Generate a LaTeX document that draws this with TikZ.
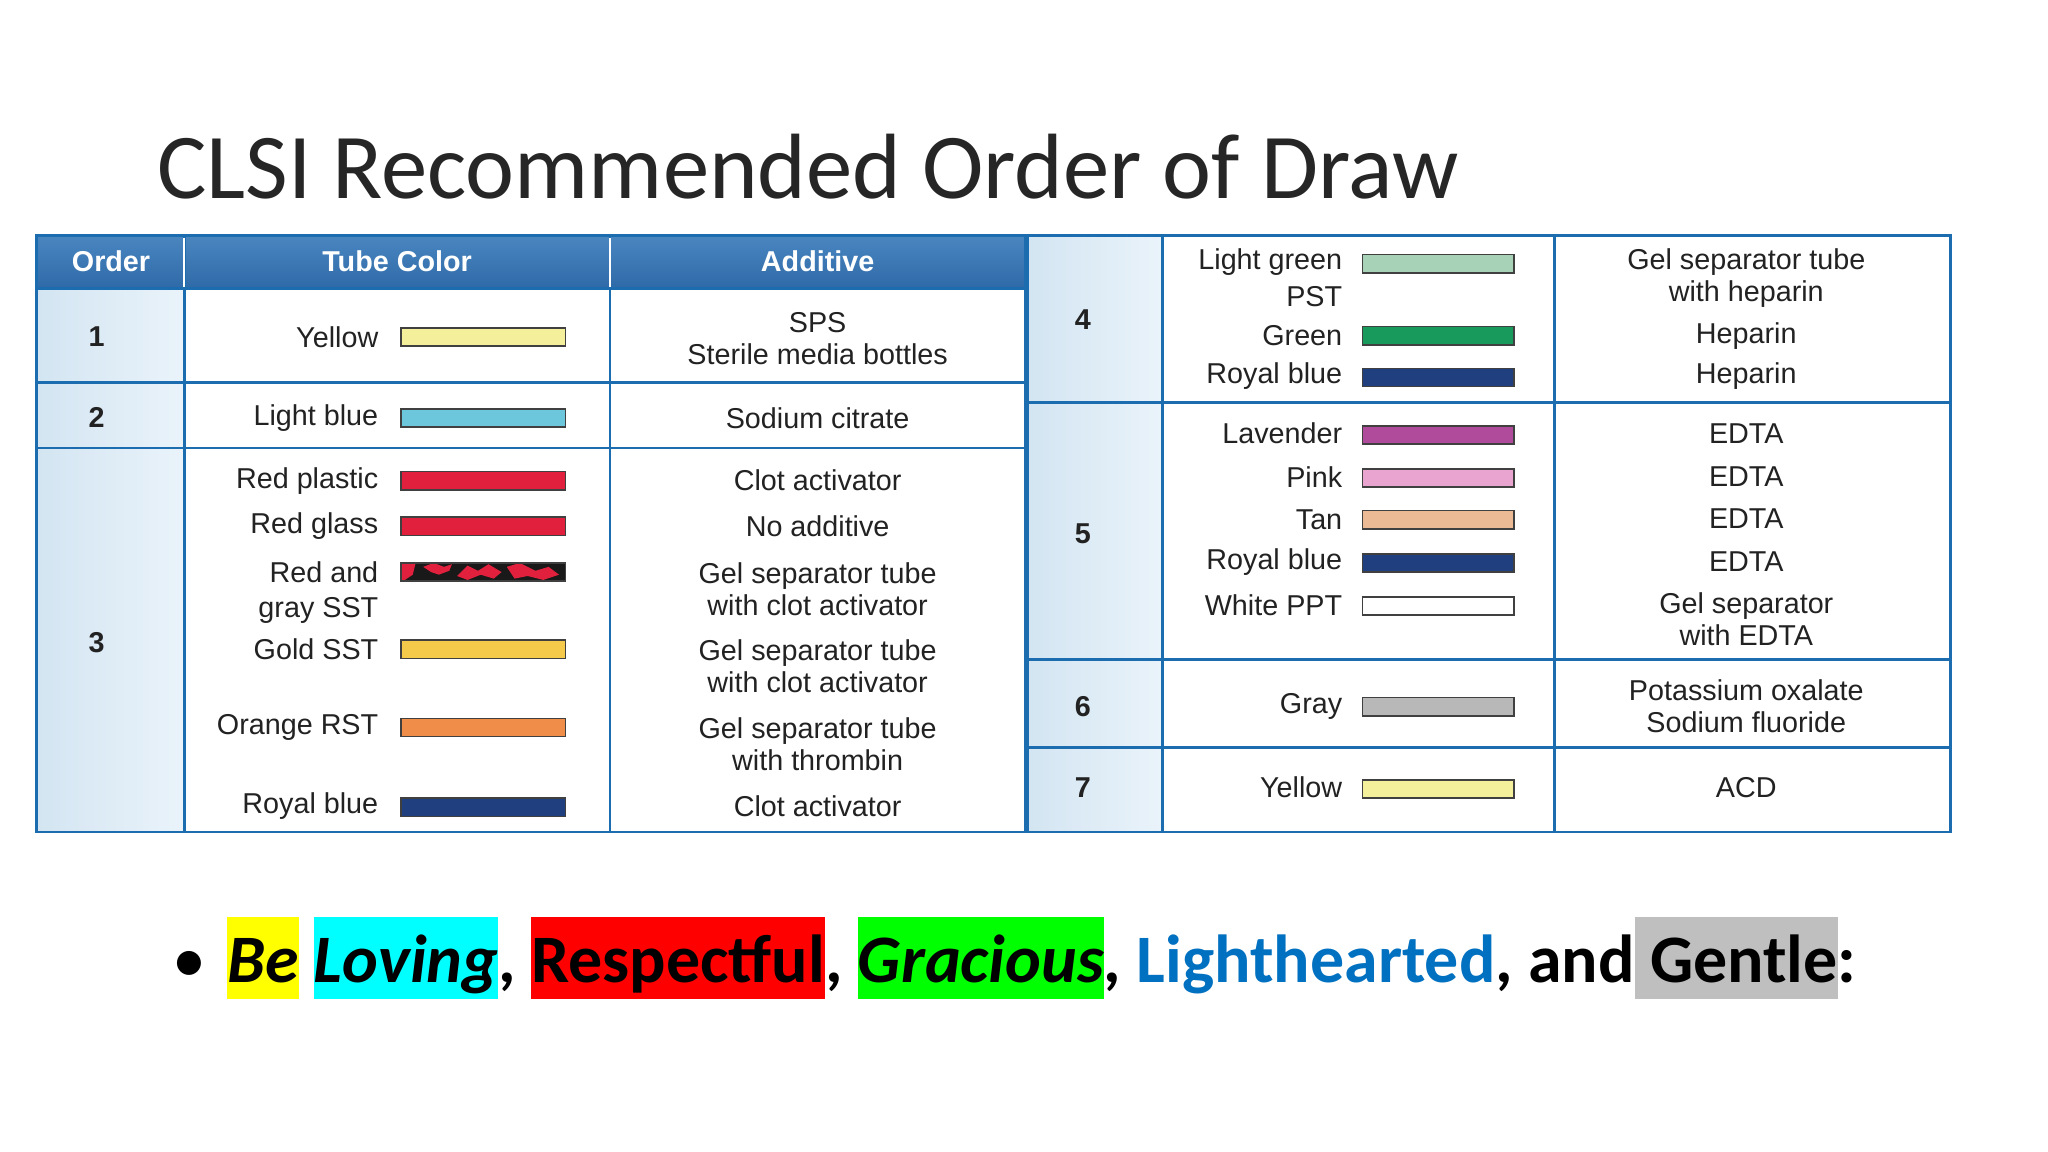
\documentclass[tikz,border=0pt]{standalone}
\usepackage{fontspec}
\setmainfont{Liberation Sans}
\newfontfamily\calib{Carlito}
\definecolor{lineb}{HTML}{1C6CB0}
\definecolor{hdr}{HTML}{2F6AA8}
\definecolor{hdrl}{HTML}{4A86C0}
\definecolor{ordbg}{HTML}{D3E5F2}
\definecolor{ordbg2}{HTML}{EAF3FA}
\definecolor{cyel}{HTML}{F3EF9A}
\definecolor{clb}{HTML}{6CC7DC}
\definecolor{cred}{HTML}{E0203C}
\definecolor{cgold}{HTML}{F5C94A}
\definecolor{corg}{HTML}{EF8D49}
\definecolor{croy}{HTML}{1F3F7F}
\definecolor{clg}{HTML}{A8D2B8}
\definecolor{cgr}{HTML}{189A5C}
\definecolor{clav}{HTML}{B04A9A}
\definecolor{cpink}{HTML}{E9A5CF}
\definecolor{ctan}{HTML}{ECBB95}
\definecolor{cgray}{HTML}{B8B8B8}
\definecolor{txt}{HTML}{222222}
\definecolor{lhb}{HTML}{0070C0}
\definecolor{hlgray}{HTML}{BFBFBF}
\definecolor{hlyel}{HTML}{FFFF00}
\definecolor{hlcy}{HTML}{00FFFF}
\definecolor{hlred}{HTML}{FF0000}
\definecolor{hlgr}{HTML}{00FF00}
\newcommand\hlb[2]{{\setlength\fboxsep{0pt}\colorbox{#1}{\rule[-6.5pt]{0pt}{31.5pt}#2}}}
\tikzset{
  lab/.style={anchor=east,font=\fontsize{11}{12}\selectfont,text=txt,inner sep=0pt},
  add/.style={align=center,font=\fontsize{11}{12.2}\selectfont,text=txt,inner sep=0pt},
  num/.style={font=\bfseries\fontsize{11}{12}\selectfont,text=txt,inner sep=0pt},
  hd/.style={font=\bfseries\fontsize{11}{12}\selectfont,text=white,inner sep=0pt},
  sw/.style={draw=black!75,line width=0.6pt},
  grid/.style={draw=lineb,line width=1.1pt}
}
\begin{document}
\begin{tikzpicture}[x=0.5pt,y=-0.5pt]
\useasboundingbox (0,0) rectangle (1568,882);
\fill[white] (0,0) rectangle (1568,882);
\node[anchor=base west,inner sep=0pt,font=\calib\fontsize{35.5}{40}\selectfont,text=black!85] (title) at (120,152) {CLSI Recommended Order of Draw};
% left table backgrounds
\shade[top color=hdrl,bottom color=hdr] (28,180) rectangle (785,221);
\shade[left color=ordbg,right color=ordbg2] (28,221) rectangle (141,637);
\shade[left color=ordbg,right color=ordbg2] (787,180) rectangle (890,637);
% grid
\draw[grid] (28,180) rectangle (785,637);
\draw[grid] (141,180) -- (141,637) (467,180) -- (467,637);
\draw[grid] (28,221) -- (785,221) (28,293) -- (785,293) (28,343) -- (785,343);
\draw[grid] (787,180) rectangle (1493,637);
\draw[grid] (890,180) -- (890,637) (1190,180) -- (1190,637);
\draw[grid] (787,308) -- (1493,308) (787,505) -- (1493,505) (787,572) -- (1493,572);
\draw[white,line width=1pt] (141,182) -- (141,220) (467,182) -- (467,220);
% header
\node[hd] (h1) at (85,200) {Order};
\node[hd] (h2) at (304,200) {Tube Color};
\node[hd] (h3) at (626,200) {Additive};
% order numbers
\node[num] (n1) at (74,258) {1};
\node[num] (n2) at (74,320) {2};
\node[num] (n3) at (74,492) {3};
\node[num] (n4) at (829,245) {4};
\node[num] (n5) at (829,409) {5};
\node[num] (n6) at (829,541) {6};
\node[num] (n7) at (829,603) {7};
% left labels
\node[lab] (l1) at (290,258) {Yellow};
\node[lab] (l2) at (290,320) {Light blue};
\node[lab] (l3) at (290,368) {Red plastic};
\node[lab] (l4) at (290,403) {Red glass};
\node[lab] (l5) at (290,438) {Red and};
\node[lab] (l5b) at (290,467) {gray SST};
\node[lab] (l6) at (290,497) {Gold SST};
\node[lab] (l7) at (290,557) {Orange RST};
\node[lab] (l8) at (290,617) {Royal blue};
% left swatches
\foreach \y/\c in {258/cyel,320/clb,368/cred,403/cred,497/cgold,557/corg,618/croy}
  \draw[sw,fill=\c] (307,\y-7) rectangle (433,\y+7);
\fill[black!90] (307,431) rectangle (433,445);
\fill[cred] (307,432) -- (318,432) -- (316,440) -- (310,444) -- (307,444) -- cycle;
\fill[cred] (324,434) -- (332,431) -- (340,434) -- (346,432) -- (344,437) -- (336,440) -- (330,438) -- cycle;
\fill[cred] (350,441) -- (358,433) -- (366,437) -- (374,432) -- (384,438) -- (378,443) -- (368,440) -- (358,444) -- cycle;
\fill[cred] (388,434) -- (398,431) -- (410,437) -- (420,434) -- (428,440) -- (416,444) -- (404,441) -- (394,443) -- cycle;
\draw[sw] (307,431) rectangle (433,445);
% left additives
\node[add] (a1) at (626,259) {SPS\\Sterile media bottles};
\node[add] (a2) at (626,320) {Sodium citrate};
\node[add] (a3) at (626,368) {Clot activator};
\node[add] (a4) at (626,403) {No additive};
\node[add] (a5) at (626,451) {Gel separator tube\\with clot activator};
\node[add] (a6) at (626,510) {Gel separator tube\\with clot activator};
\node[add] (a7) at (626,570) {Gel separator tube\\with thrombin};
\node[add] (a8) at (626,617) {Clot activator};
% right labels
\node[lab] (r1) at (1028,201) {Light green};
\node[lab] (r1b) at (1028,227) {PST};
\node[lab] (r2) at (1028,257) {Green};
\node[lab] (r3) at (1028,288) {Royal blue};
\node[lab] (r4) at (1028,332) {Lavender};
\node[lab] (r5) at (1028,365) {Pink};
\node[lab] (r6) at (1028,398) {Tan};
\node[lab] (r7) at (1028,430) {Royal blue};
\node[lab] (r8) at (1028,463) {White PPT};
\node[lab] (r9) at (1028,541) {Gray};
\node[lab] (r10) at (1028,603) {Yellow};
\foreach \y/\c in {202/clg,257/cgr,289/croy,333/clav,366/cpink,398/ctan,431/croy,464/white,541/cgray,604/cyel}
  \draw[sw,fill=\c] (1043,\y-7) rectangle (1159,\y+7);
% right additives
\node[add] (b1) at (1337,213) {Gel separator tube\\with heparin};
\node[add] (b2) at (1337,257) {Heparin};
\node[add] (b3) at (1337,288) {Heparin};
\node[add] (b4) at (1337,332) {EDTA};
\node[add] (b5) at (1337,365) {EDTA};
\node[add] (b6) at (1337,397) {EDTA};
\node[add] (b7) at (1337,430) {EDTA};
\node[add] (b8) at (1337,474) {Gel separator\\with EDTA};
\node[add] (b9) at (1337,541) {Potassium oxalate\\Sodium fluoride};
\node[add] (b10) at (1337,603) {ACD};
% bullet line
\node[anchor=base west,inner sep=0pt,font=\calib\bfseries\fontsize{26}{30}\selectfont] (bul) at (132,752)
 {{\mdseries\textbullet}\hspace{0.3em}\hlb{hlyel}{\itshape Be} \hlb{hlcy}{\itshape Loving}, \hlb{hlred}{Respectful}, \hlb{hlgr}{\itshape Gracious}, \textcolor{lhb}{Lighthearted}, and\hlb{hlgray}{ Gentle}:};
\end{tikzpicture}
\end{document}
